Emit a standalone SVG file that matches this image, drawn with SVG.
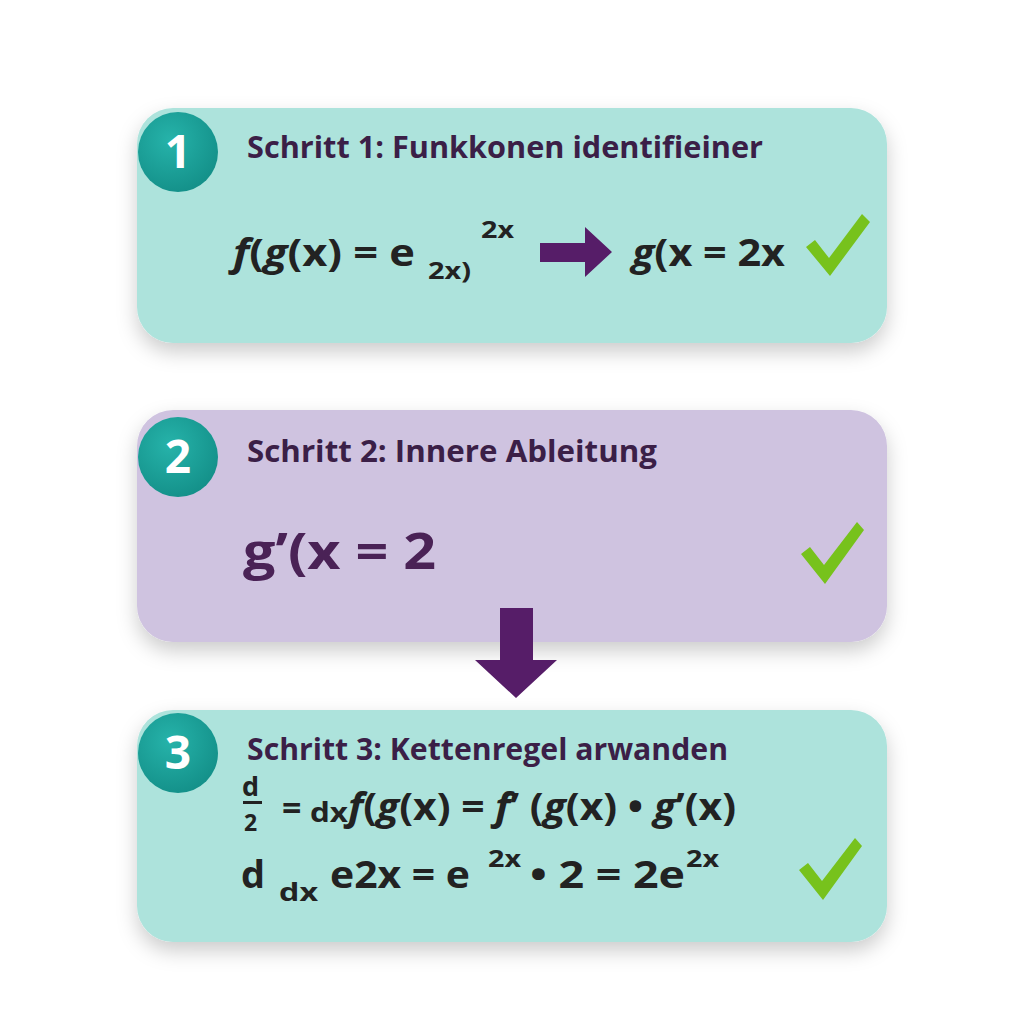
<svg xmlns="http://www.w3.org/2000/svg" width="1024" height="1024" viewBox="0 0 1024 1024">
<defs>
<filter id="sh" x="-10%" y="-10%" width="120%" height="135%">
<feDropShadow dx="0" dy="9" stdDeviation="10" flood-color="#000" flood-opacity="0.2"/>
</filter>
<radialGradient id="badge" cx="40%" cy="35%" r="70%">
<stop offset="0" stop-color="#26b3aa"/>
<stop offset="1" stop-color="#138f88"/>
</radialGradient>
<style>
.teal{fill:#ade3dc}
.lav{fill:#cfc3e0}
.title{font-family:"Open Sans","Noto Sans",sans-serif;font-weight:700;font-size:31px;fill:#3b1f47}
.num{font-family:"Open Sans","Noto Sans",sans-serif;font-weight:700;font-size:46px;fill:#fff}
.m{font-family:"Open Sans","Noto Sans",sans-serif;font-weight:700;fill:#222}
.mp{font-family:"Open Sans","Noto Sans",sans-serif;font-weight:700;fill:#4a2256}
.i{font-style:italic}
.chk{fill:#77c21c}
.arr{fill:#561d68}
</style>
</defs>
<rect width="1024" height="1024" fill="#fff"/>

<g id="step1">
<rect x="137" y="108" width="750" height="235" rx="36" class="teal" filter="url(#sh)"/>
<circle cx="178" cy="152" r="40" fill="url(#badge)"/>
<text x="178" y="168" text-anchor="middle" class="num">1</text>
<text x="247" y="158" class="title" textLength="516" lengthAdjust="spacingAndGlyphs">Schritt 1: Funkkonen identifieiner</text>
<text x="233" y="266" class="m" font-size="37" textLength="182" lengthAdjust="spacingAndGlyphs"><tspan class="i">f</tspan>(<tspan class="i">g</tspan>(x) = e</text>
<text x="428" y="279" class="m" font-size="23" textLength="43" lengthAdjust="spacingAndGlyphs">2x)</text>
<text x="481" y="238" class="m" font-size="23" textLength="33" lengthAdjust="spacingAndGlyphs">2x</text>
<text x="632" y="266" class="m" font-size="37" textLength="153" lengthAdjust="spacingAndGlyphs"><tspan class="i">g</tspan>(x = 2x</text>
<polygon class="chk" points="806,247 815,240 829,258 862,214 870,222 830,276"/>
</g>

<g id="step2">
<rect x="137" y="410" width="750" height="232" rx="36" class="lav" filter="url(#sh)"/>
<circle cx="178" cy="457" r="40" fill="url(#badge)"/>
<text x="178" y="473" text-anchor="middle" class="num">2</text>
<text x="247" y="462" class="title" textLength="410" lengthAdjust="spacingAndGlyphs">Schritt 2: Innere Ableitung</text>
<text x="243" y="569" class="mp" font-size="50" textLength="193" lengthAdjust="spacingAndGlyphs">g’(x = 2</text>
<polygon class="chk" points="801,554 810,547 824,565 857,522 864,530 825,584"/>
</g>

<g id="step3">
<rect x="137" y="710" width="750" height="232" rx="36" class="teal" filter="url(#sh)"/>
<circle cx="178" cy="753" r="40" fill="url(#badge)"/>
<text x="178" y="769" text-anchor="middle" class="num">3</text>
<text x="247" y="760" class="title" textLength="481" lengthAdjust="spacingAndGlyphs">Schritt 3: Kettenregel arwanden</text>
<text x="242" y="796" class="m" font-size="27">d</text>
<rect x="243" y="801" width="19" height="3" fill="#222"/>
<text x="244" y="831" class="m" font-size="23">2</text>
<text x="282" y="820" class="m" font-size="34">=</text>
<text x="310" y="822" class="m" font-size="26" textLength="38" lengthAdjust="spacingAndGlyphs">dx</text>
<text x="348" y="820" class="m" font-size="37" textLength="388" lengthAdjust="spacingAndGlyphs"><tspan class="i">f</tspan>(<tspan class="i">g</tspan>(x) = <tspan class="i">f</tspan>’ (<tspan class="i">g</tspan>(x) • <tspan class="i">g</tspan>’(x)</text>
<text x="241" y="888" class="m" font-size="38">d</text>
<text x="279" y="901" class="m" font-size="25" textLength="39" lengthAdjust="spacingAndGlyphs">dx</text>
<text x="330" y="888" class="m" font-size="37" textLength="140" lengthAdjust="spacingAndGlyphs">e2x = e</text>
<text x="488" y="867" class="m" font-size="23" textLength="33" lengthAdjust="spacingAndGlyphs">2x</text>
<text x="530" y="888" class="m" font-size="37" textLength="155" lengthAdjust="spacingAndGlyphs">• 2 = 2e</text>
<text x="686" y="867" class="m" font-size="23" textLength="33" lengthAdjust="spacingAndGlyphs">2x</text>
<polygon class="chk" points="799,870 808,863 822,881 855,838 862,846 823,900"/>
</g>

<g id="connectors">
<polygon class="arr" points="540,243 585,243 585,227 612,252 585,277 585,262 540,262"/>
<polygon class="arr" points="500,608 533,608 533,660 557,660 516,698 475,660 500,660"/>
</g>
</svg>
